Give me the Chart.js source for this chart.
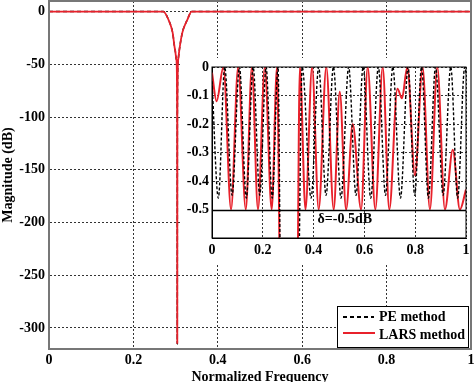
<!DOCTYPE html>
<html>
<head>
<meta charset="utf-8">
<script src="https://cdn.jsdelivr.net/npm/chart.js@4/dist/chart.umd.min.js"></script>
<style>
  html, body { margin: 0; padding: 0; background: #fff; }
  #wrap { position: relative; width: 474px; height: 382px; }
  #mainChart { position: absolute; left: 0; top: 0; }
  #insetChart { position: absolute; left: 182px; top: 58px; background: #fff; }
</style>
</head>
<body>
<div id="wrap">
  <canvas id="mainChart" width="474" height="382"></canvas>
  <canvas id="insetChart" width="288" height="206"></canvas>
</div>
<script>
// Main plot: notch response (both methods overlap here)
const freqMain = [0, 0.271, 0.283, 0.293, 0.2986, 0.302, 0.3038, 0.304, 0.3042, 0.306, 0.309, 0.316, 0.328, 0.338, 1];
const magMain  = [0, 0, -7.6, -20, -36, -46, -100, -315, -100, -46, -36, -20, -7.6, 0, 0];

// Inset: passband ripple
const larsFreq = [0, 0.018, 0.045, 0.075, 0.103, 0.133, 0.157, 0.181, 0.208, 0.235, 0.256, 0.272,
                  0.333, 0.346, 0.368, 0.394, 0.42, 0.45, 0.479, 0.503, 0.528, 0.554, 0.587, 0.613,
                  0.643, 0.672, 0.698, 0.73, 0.748, 0.769, 0.799, 0.829, 0.858, 0.887, 0.917, 0.948, 0.976, 1];
const larsMag  = [-0.02, -0.12, 0, -0.5, 0, -0.5, 0, -0.5, 0, -0.5, 0, -1,
                  -1, 0, -0.5, 0, -0.5, 0, -0.5, -0.087, -0.5, -0.2, -0.5, 0,
                  -0.5, 0, -0.5, -0.076, -0.11, 0, -0.38, 0, -0.5, 0, -0.5, -0.29, -0.5, -0.43];

const peFreq = [0, 0.025, 0.05, 0.079, 0.108, 0.135, 0.162, 0.188, 0.213, 0.237, 0.26, 0.273,
                0.336, 0.355, 0.39, 0.42, 0.449, 0.478, 0.508, 0.538, 0.567, 0.595, 0.625, 0.655,
                0.683, 0.712, 0.742, 0.772, 0.798, 0.825, 0.852, 0.88, 0.91, 0.94, 0.967, 0.995, 1];
const peMag  = [-0.05, -0.46, 0, -0.45, 0, -0.46, 0, -0.45, 0, -0.46, 0, -1,
                -1, 0, -0.46, 0, -0.45, 0, -0.46, 0, -0.45, 0, -0.46, 0,
                -0.45, 0, -0.46, 0, -0.45, 0, -0.46, 0, -0.45, 0, -0.46, 0, -0.02];

// Ticks
const xTicks = [0, 0.2, 0.4, 0.6, 0.8, 1];
const xTickLabels = ['0', '0.2', '0.4', '0.6', '0.8', '1'];
const yTicksMain = [0, -50, -100, -150, -200, -250, -300];
const yTicksInset = [0, -0.1, -0.2, -0.3, -0.4, -0.5];
const yTickLabelsInset = ['0', '-0.1', '-0.2', '-0.3', '-0.4', '-0.5'];
const deltaLevel = -0.5;

const RED = '#e8212b';
const font = { family: 'Liberation Serif', size: 14, weight: 'bold', lineHeight: 1 };

function toPoints(xs, ys) {
    return xs.map((x, i) => ({ x: x, y: ys[i] }));
}

// feste Achsengroessen, ohne Zusatzabstand fuer Randlabels
function fixX(h) {
    return s => { s.height = h; s.paddingLeft = 0; s.paddingRight = 0; };
}
function fixY(w) {
    return s => { s.width = w; s.paddingTop = 0; s.paddingBottom = 0; };
}

// Rahmen um die Achsenflaeche
function framePlugin(color, width) {
    return {
        id: 'frame',
        afterDatasetsDraw(chart) {
            const { ctx, chartArea: a } = chart;
            ctx.save();
            ctx.strokeStyle = color;
            ctx.lineWidth = width;
            ctx.strokeRect(a.left, a.top, a.right - a.left, a.bottom - a.top);
            ctx.restore();
        }
    };
}

const legendBox = {
    id: 'legendBox',
    afterDraw(chart) {
        const { ctx, chartArea: a } = chart;
        const right = a.right - 3, bottom = a.bottom - 2;
        const x0 = right - 131, y0 = bottom - 41;
        ctx.save();
        ctx.fillStyle = '#fff';
        ctx.fillRect(x0, y0, 131, 41);
        ctx.strokeStyle = '#000';
        ctx.lineWidth = 1;
        ctx.strokeRect(x0 + 0.5, y0 + 0.5, 131, 41);
        ctx.lineWidth = 2;
        ctx.setLineDash([4, 3]);
        ctx.beginPath(); ctx.moveTo(x0 + 6, y0 + 11); ctx.lineTo(x0 + 37, y0 + 11); ctx.stroke();
        ctx.setLineDash([]);
        ctx.strokeStyle = RED;
        ctx.beginPath(); ctx.moveTo(x0 + 6, y0 + 27); ctx.lineTo(x0 + 38, y0 + 27); ctx.stroke();
        ctx.fillStyle = '#000';
        ctx.font = 'bold 14px "Liberation Serif"';
        ctx.textBaseline = 'middle';
        ctx.fillText('PE method', x0 + 42, y0 + 11);
        ctx.fillText('LARS method', x0 + 42, y0 + 29);
        ctx.restore();
    }
};

const deltaLine = {
    id: 'deltaLine',
    afterDatasetsDraw(chart) {
        const { ctx, chartArea: a, scales } = chart;
        const y = Math.round(scales.y.getPixelForValue(deltaLevel)) + 0.5;
        ctx.save();
        ctx.strokeStyle = '#000';
        ctx.lineWidth = 1.6;
        ctx.beginPath(); ctx.moveTo(a.left, y); ctx.lineTo(a.right, y); ctx.stroke();
        ctx.fillStyle = '#000';
        ctx.font = 'bold 14px "Liberation Serif"';
        ctx.textAlign = 'center';
        ctx.textBaseline = 'middle';
        ctx.fillText('\u03b4=-0.5dB', scales.x.getPixelForValue(0.523), y + 9);
        ctx.restore();
    }
};

// Hauptdiagramm
new Chart(document.getElementById('mainChart').getContext('2d'), {
    type: 'line',
    data: {
        datasets: [{
            label: 'PE method',
            data: toPoints(freqMain, magMain),
            borderColor: '#000',
            borderDash: [4, 3],
            borderWidth: 1.5,
            pointRadius: 0,
            cubicInterpolationMode: 'monotone',
            order: 2
        }, {
            label: 'LARS method',
            data: toPoints(freqMain, magMain),
            borderColor: RED,
            borderWidth: 1.8,
            pointRadius: 0,
            cubicInterpolationMode: 'monotone',
            order: 1
        }]
    },
    options: {
        responsive: false,
        animation: false,
        layout: { padding: { top: 1, right: 3, left: 0, bottom: 0 } },
        plugins: { legend: { display: false }, tooltip: { enabled: false } },
        scales: {
            x: {
                type: 'linear', min: 0, max: 1,
                afterBuildTicks: s => { s.ticks = xTicks.map(v => ({ value: v })); },
                afterFit: fixX(33),
                ticks: { callback: (v, i) => xTickLabels[i], font: font, color: '#000', padding: 4, maxRotation: 0, autoSkip: false },
                grid: { color: '#333', lineWidth: 1, drawTicks: false },
                border: { dash: [2, 2], color: '#777', width: 2 },
                title: { display: true, text: 'Normalized Frequency', font: font, color: '#000', padding: { top: 0, bottom: -2 } }
            },
            y: {
                type: 'linear', min: -320, max: 10,
                afterBuildTicks: s => { s.ticks = yTicksMain.map(v => ({ value: v })); },
                afterFit: fixY(49),
                ticks: { callback: v => String(v), font: font, color: '#000', padding: 4, autoSkip: false },
                grid: { color: '#333', lineWidth: 1, drawTicks: false },
                border: { dash: [2, 2], color: '#777', width: 2 },
                title: { display: true, text: 'Magnitude (dB)', font: font, color: '#000', padding: { top: 1, bottom: 0 } }
            }
        }
    },
    plugins: [framePlugin('#777', 2), legendBox]
});

// Eingebettetes Diagramm (Welligkeit im Durchlassbereich)
new Chart(document.getElementById('insetChart').getContext('2d'), {
    type: 'line',
    data: {
        datasets: [{
            label: 'PE method',
            data: toPoints(peFreq, peMag),
            borderColor: '#000',
            borderDash: [3, 2],
            borderWidth: 1.4,
            pointRadius: 0,
            cubicInterpolationMode: 'monotone',
            clip: 0,
            order: 1
        }, {
            label: 'LARS method',
            data: toPoints(larsFreq, larsMag),
            borderColor: RED,
            borderWidth: 2,
            pointRadius: 0,
            cubicInterpolationMode: 'monotone',
            clip: 0,
            order: 2
        }]
    },
    options: {
        responsive: false,
        animation: false,
        layout: { padding: { top: 9, right: 4, left: 0, bottom: 0 } },
        plugins: { legend: { display: false }, tooltip: { enabled: false } },
        scales: {
            x: {
                type: 'linear', min: 0, max: 1,
                afterBuildTicks: s => { s.ticks = xTicks.map(v => ({ value: v })); },
                afterFit: fixX(26),
                ticks: { callback: (v, i) => xTickLabels[i], font: font, color: '#000', padding: 5, maxRotation: 0, autoSkip: false },
                grid: { color: '#333', lineWidth: 1, drawTicks: false },
                border: { dash: [2, 2], color: '#000', width: 1 }
            },
            y: {
                type: 'linear', min: -0.6, max: 0,
                afterBuildTicks: s => { s.ticks = yTicksInset.map(v => ({ value: v })); },
                afterFit: fixY(30),
                ticks: { callback: (v, i) => yTickLabelsInset[i], font: font, color: '#000', padding: 3, autoSkip: false },
                grid: {
                    color: c => (c.tick && c.tick.value === deltaLevel) ? 'rgba(0,0,0,0)' : '#333',
                    lineWidth: 1, drawTicks: false
                },
                border: { dash: [2, 2], color: '#000', width: 1 }
            }
        }
    },
    plugins: [framePlugin('#000', 1), deltaLine]
});
</script>
</body>
</html>
